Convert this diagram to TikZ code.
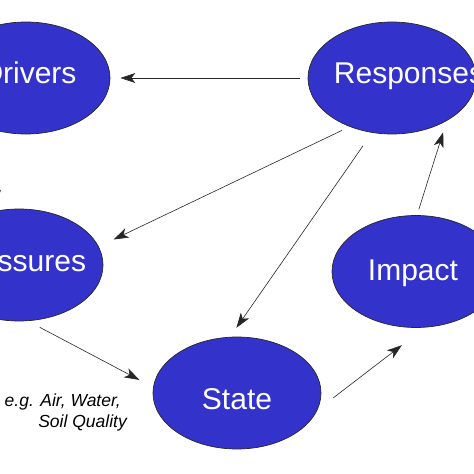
\documentclass[tikz,border=0pt]{standalone}
\usepackage{fontspec}
\setmainfont{Liberation Sans}
\usepackage{tikz}
\usetikzlibrary{shapes,arrows.meta}
\definecolor{dpsirblue}{RGB}{51,51,204}
\tikzset{
  blob/.style={ellipse,draw=black!85,line width=0.7pt,fill=dpsirblue,minimum width=168pt,minimum height=112pt,inner sep=0pt},
  lbl/.style={text=white,anchor=base,inner sep=0pt,font=\fontsize{30}{36}\selectfont},
  note/.style={anchor=base east,inner sep=0pt,font=\fontsize{17.5}{21}\selectfont\itshape},
  conn/.style={black!85,line width=0.6pt,-{Stealth[length=15pt,width=10pt,inset=4pt]}}
}

\begin{document}
\begin{tikzpicture}[x=1pt,y=-1pt]
\useasboundingbox (0,0) rectangle (474,474);
\node[blob] (drv) at (26,78) {};
\node[blob] (press) at (19,265) {};
\node[blob] (state) at (237,393) {};
\node[blob] (impact) at (416,271.5) {};
\node[blob] (resp) at (392,78) {};
\node[lbl] (drvtxt) at (29,83) {Drivers};
\node[lbl] (presstxt) at (18.5,271) {Pressures};
\node[lbl] (statetxt) at (237,409) {State};
\node[lbl] (impacttxt) at (413,280) {Impact};
\node[lbl] (resptxt) at (409,83) {Responses};
\node[note] (eg) at (121,406) {e.g. Air, Water,};
\node[note] (soil) at (127,427) {Soil Quality};
\draw[conn,shorten <=8pt,shorten >=10pt] (resp.180) -- (drv.0);
\draw[conn,shorten <=8.5pt,shorten >=16.5pt] (resp.229) -- (press.13);
\draw[conn,shorten <=16pt,shorten >=11pt] (resp.250) -- (state.97);
\draw[conn,shorten <=6pt,shorten >=12pt] (impact.89) -- (resp.322);
\draw[conn,shorten <=20pt,shorten >=29pt] (state.348) -- (impact.279);
\draw[conn,shorten <=13.5pt,shorten >=15.5pt] (press.279) -- (state.176);
\draw[conn,shorten <=8pt,shorten >=6pt] (drv.240) -- (press.113);
\end{tikzpicture}
\end{document}
